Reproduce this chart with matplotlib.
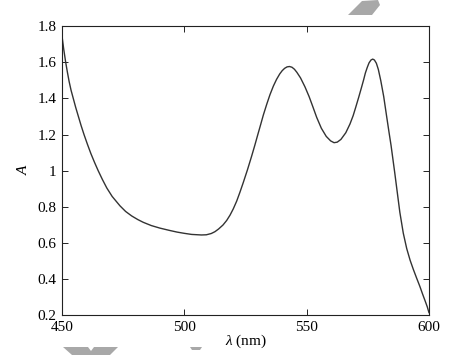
import matplotlib
matplotlib.use("Agg")
import matplotlib.pyplot as plt
from matplotlib.patches import Polygon

wavelength = [450, 450.7, 451.5, 452.2, 452.9, 453.7, 454.6, 455.6, 456.7, 457.8, 459, 460.4,
              461.8, 463.3, 464.8, 466.5, 468.3, 470.5, 473.7, 476, 478.5, 481, 483.2, 486.5,
              490, 494, 497, 500, 503, 507, 509, 511, 512.5, 514, 515.8, 517.3, 518.7, 520,
              521.4, 522.7, 524.1, 525.8, 527.5, 528.8, 530, 531.2, 532.3, 533.7, 535, 536.4,
              537.7, 539, 540, 541, 542, 543, 544, 545, 546, 547.5, 549.3, 551, 552.5, 554.1,
              556, 558, 559.8, 561.2, 562.5, 564, 566, 567.7, 569, 570, 571.3, 572.5, 573.3,
              574, 574.8, 575.5, 576.3, 577, 577.7, 578.5, 579.3, 580.3, 581.5, 582.7, 583.7,
              584.5, 585.3, 586, 587, 588.1, 589.5, 590.9, 592.3, 593.6, 595, 596.3, 597.4,
              598.5, 599.3, 600]
absorbance = [1.745, 1.672, 1.600, 1.545, 1.494, 1.445, 1.400, 1.350, 1.300, 1.250, 1.200, 1.146,
              1.095, 1.046, 1.000, 0.952, 0.905, 0.858, 0.806, 0.775, 0.750, 0.730, 0.715, 0.697,
              0.683, 0.670, 0.661, 0.654, 0.648, 0.645, 0.646, 0.653, 0.663, 0.678, 0.700, 0.725,
              0.755, 0.789, 0.832, 0.880, 0.935, 1.005, 1.080, 1.140, 1.198, 1.255, 1.308, 1.368,
              1.420, 1.468, 1.505, 1.535, 1.553, 1.566, 1.574, 1.576, 1.572, 1.561, 1.544, 1.513,
              1.464, 1.410, 1.355, 1.295, 1.235, 1.190, 1.165, 1.155, 1.158, 1.173, 1.210, 1.258,
              1.304, 1.348, 1.407, 1.464, 1.503, 1.540, 1.572, 1.596, 1.612, 1.617, 1.612, 1.594,
              1.560, 1.498, 1.410, 1.300, 1.210, 1.140, 1.060, 0.990, 0.885, 0.770, 0.655, 0.570,
              0.505, 0.455, 0.405, 0.360, 0.318, 0.278, 0.248, 0.216]

x_ticks = [450, 500, 550, 600]
y_ticks = [0.2, 0.4, 0.6, 0.8, 1.0, 1.2, 1.4, 1.6, 1.8]
y_tick_labels = ["0.2", "0.4", "0.6", "0.8", "1", "1.2", "1.4", "1.6", "1.8"]

plt.rcParams['font.family'] = ['Liberation Serif', 'DejaVu Serif']
plt.rcParams['mathtext.fontset'] = 'custom'
plt.rcParams['mathtext.it'] = 'Liberation Serif:italic'
plt.rcParams['mathtext.rm'] = 'Liberation Serif'

fig = plt.figure(figsize=(4.74, 3.55), dpi=100)
ax = fig.add_axes([0.1308, 0.1113, 0.7742, 0.8155])

ax.plot(wavelength, absorbance, color='#333333', linewidth=1.0)
ax.set_xlim(450, 600)
ax.set_ylim(0.2, 1.8)
ax.set_xticks(x_ticks)
ax.set_yticks(y_ticks)
ax.set_yticklabels(y_tick_labels)
ax.tick_params(direction='in', length=4, width=0.6, top=True, right=True,
               labelsize=11, colors='black', pad=4)
for s in ax.spines.values():
    s.set_linewidth(0.8)
    s.set_color('#222222')

ax.set_xlabel(r'$\lambda$ (nm)', fontsize=11, labelpad=-1)
ax.set_ylabel('A', fontsize=11, style='italic', labelpad=5)

# watermark-like grey shapes
grey = '#a8a8a8'
def px(x, y):
    return (x / 474.0, 1 - y / 355.0)
fig.add_artist(Polygon([px(348, 15), px(362, 1), px(378, 0), px(380, 5), px(372, 15)],
                       closed=True, transform=fig.transFigure, color=grey, lw=0))
fig.add_artist(Polygon([px(63, 347), px(88, 347), px(91, 351), px(94, 347), px(118, 347),
                        px(110, 355), px(72, 355)],
                       closed=True, transform=fig.transFigure, color=grey, lw=0))
fig.add_artist(Polygon([px(190, 347), px(202, 347), px(200, 350), px(192, 350)],
                       closed=True, transform=fig.transFigure, color=grey, lw=0))

fig.savefig('out.png', dpi=100)
